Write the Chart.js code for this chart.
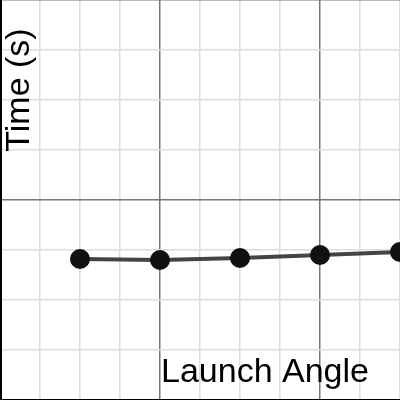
<!DOCTYPE html>
<html>
<head>
<script src="https://cdn.jsdelivr.net/npm/chart.js@4"></script>
<style>
body{margin:0;background:#fff;overflow:hidden}
#c{position:absolute;left:-12px;top:-12px}
</style>
</head>
<body>
<canvas id="c" width="424" height="424"></canvas>
<script>
const angles = [20, 40, 60, 80, 100];
const times = [2.82, 2.80, 2.84, 2.90, 2.96];
const xTitle = "Launch Angle";
const yTitle = "Time (s)";

const labelsPlugin = {
  id: "labels",
  afterDraw(chart) {
    const c = chart.ctx;
    c.save();
    c.fillStyle = "#000";
    c.font = "34px 'Liberation Sans', Arial";
    c.textAlign = "center";
    c.textBaseline = "middle";
    c.fillText(xTitle, 12 + 265, 12 + 373);
    c.translate(12 + 20, 12 + 90);
    c.rotate(-Math.PI / 2);
    c.fillText(yTitle, 0, 0);
    c.restore();
  }
};

function gridColor(major) {
  return ctx => (ctx.tick && ctx.tick.value % major === 0 && ctx.tick.value !== 0) ? "#777" : "#ddd";
}

new Chart(document.getElementById("c"), {
  type: "scatter",
  data: {
    datasets: [{
      data: angles.map((a, i) => ({ x: a, y: times[i] })),
      showLine: true,
      borderColor: "#444",
      borderWidth: 4,
      backgroundColor: "#111",
      pointBorderColor: "#111",
      pointRadius: 8,
      pointHoverRadius: 8
    }]
  },
  options: {
    responsive: false,
    animation: false,
    layout: { padding: 0 },
    plugins: { legend: { display: false }, tooltip: { enabled: false } },
    scales: {
      x: {
        min: 0, max: 100,
        ticks: { display: false, stepSize: 10 },
        grid: { color: gridColor(40), lineWidth: 1.5, drawTicks: false },
        border: { display: true, color: "#000", width: 3 }
      },
      y: {
        min: 0, max: 8,
        ticks: { display: false, stepSize: 1 },
        grid: { color: gridColor(4), lineWidth: 1.5, drawTicks: false },
        border: { display: true, color: "#000", width: 3 }
      }
    }
  },
  plugins: [labelsPlugin]
});
</script>
</body>
</html>
